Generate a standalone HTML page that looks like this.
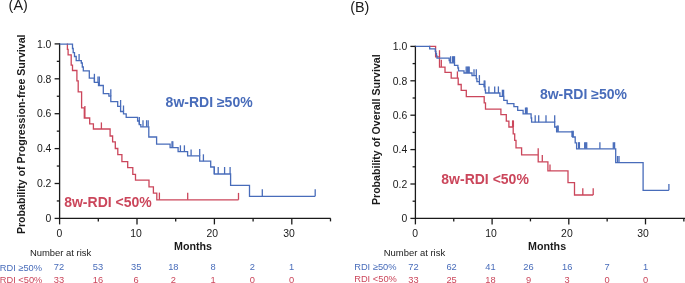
<!DOCTYPE html>
<html lang="en"><head><meta charset="utf-8"><title>Kaplan-Meier survival curves</title><style>html,body{margin:0;padding:0;background:#fff}body{width:685px;height:283px;overflow:hidden}</style></head><body><svg width="685" height="283" viewBox="0 0 685 283" style="display:block">
<rect width="685" height="283" fill="#fff"/>
<g font-family="'Liberation Sans',Arial,sans-serif" fill="#1a1a1a">
<text x="8.6" y="10.2" font-size="14.4">(A)</text>
<text x="350.2" y="11.5" font-size="14.4">(B)</text>
<g stroke="#1a1a1a" stroke-width="1.3" fill="none"><path d="M59.6,43.300000000000004V218.4H330.7" /><path d="M54.6,218.40H59.6"/><path d="M56.800000000000004,200.95H59.6"/><path d="M54.6,183.50H59.6"/><path d="M56.800000000000004,166.05H59.6"/><path d="M54.6,148.60H59.6"/><path d="M56.800000000000004,131.15H59.6"/><path d="M54.6,113.70H59.6"/><path d="M56.800000000000004,96.25H59.6"/><path d="M54.6,78.80H59.6"/><path d="M56.800000000000004,61.35H59.6"/><path d="M54.6,43.90H59.6"/><path d="M59.60,218.4V224.4"/><path d="M98.30,218.4V221.4"/><path d="M137.00,218.4V224.4"/><path d="M175.70,218.4V221.4"/><path d="M214.40,218.4V224.4"/><path d="M253.10,218.4V221.4"/><path d="M291.80,218.4V224.4"/><path d="M330.50,218.4V221.4"/></g>
<g stroke="#1a1a1a" stroke-width="1.3" fill="none"><path d="M415.4,45.800000000000004V218.4H685" /><path d="M410.4,218.40H415.4"/><path d="M412.59999999999997,201.20H415.4"/><path d="M410.4,184.00H415.4"/><path d="M412.59999999999997,166.80H415.4"/><path d="M410.4,149.60H415.4"/><path d="M412.59999999999997,132.40H415.4"/><path d="M410.4,115.20H415.4"/><path d="M412.59999999999997,98.00H415.4"/><path d="M410.4,80.80H415.4"/><path d="M412.59999999999997,63.60H415.4"/><path d="M410.4,46.40H415.4"/><path d="M415.40,218.4V224.4"/><path d="M453.75,218.4V221.4"/><path d="M492.10,218.4V224.4"/><path d="M530.45,218.4V221.4"/><path d="M568.80,218.4V224.4"/><path d="M607.15,218.4V221.4"/><path d="M645.50,218.4V224.4"/><path d="M683.85,218.4V221.4"/></g>
<g font-size="10.4">
<text x="51.4" y="222.10" text-anchor="end">0</text><text x="51.4" y="187.20" text-anchor="end">0.2</text><text x="51.4" y="152.30" text-anchor="end">0.4</text><text x="51.4" y="117.40" text-anchor="end">0.6</text><text x="51.4" y="82.50" text-anchor="end">0.8</text><text x="51.4" y="47.60" text-anchor="end">1.0</text>
<text x="407.2" y="222.10" text-anchor="end">0</text><text x="407.2" y="187.70" text-anchor="end">0.2</text><text x="407.2" y="153.30" text-anchor="end">0.4</text><text x="407.2" y="118.90" text-anchor="end">0.6</text><text x="407.2" y="84.50" text-anchor="end">0.8</text><text x="407.2" y="50.10" text-anchor="end">1.0</text>
<text x="59.4" y="236.8" text-anchor="middle">0</text>
<text x="136" y="236.8" text-anchor="middle">10</text>
<text x="212.3" y="236.8" text-anchor="middle">20</text>
<text x="289" y="236.8" text-anchor="middle">30</text>
<text x="415.1" y="236.8" text-anchor="middle">0</text>
<text x="491" y="236.8" text-anchor="middle">10</text>
<text x="566.9" y="236.8" text-anchor="middle">20</text>
<text x="643.1" y="236.8" text-anchor="middle">30</text>
</g>
<g font-size="10.6" font-weight="bold">
<text x="193" y="249.7" text-anchor="middle" font-size="10.7">Months</text>
<text x="547.1" y="249.5" text-anchor="middle" font-size="10.7">Months</text>
<text transform="translate(24.5,134.3) rotate(-90)" text-anchor="middle">Probability of Progression-free Survival</text>
<text transform="translate(380,129.7) rotate(-90)" text-anchor="middle">Probability of Overall Survival</text>
</g>
<g font-size="9.3">
<text x="29.9" y="256.3" font-size="9.45">Number at risk</text>
<text x="383.8" y="256.4" font-size="9.45">Number at risk</text>
<g fill="#486cba">
<text x="-0.3" y="270.5">RDI ≥50%</text>
<text x="354.2" y="270.3">RDI ≥50%</text>
<text x="59" y="270.2" text-anchor="middle">72</text>
<text x="98" y="270.2" text-anchor="middle">53</text>
<text x="136.2" y="270.2" text-anchor="middle">35</text>
<text x="173.3" y="270.2" text-anchor="middle">18</text>
<text x="213" y="270.2" text-anchor="middle">8</text>
<text x="252.4" y="270.2" text-anchor="middle">2</text>
<text x="291.5" y="270.2" text-anchor="middle">1</text>
<text x="413.4" y="270.2" text-anchor="middle">72</text>
<text x="451.6" y="270.2" text-anchor="middle">62</text>
<text x="490.5" y="270.2" text-anchor="middle">41</text>
<text x="528.5" y="270.2" text-anchor="middle">26</text>
<text x="567.2" y="270.2" text-anchor="middle">16</text>
<text x="607.1" y="270.2" text-anchor="middle">7</text>
<text x="645.6" y="270.2" text-anchor="middle">1</text>
</g>
<g fill="#cb465b">
<text x="-0.3" y="282.6">RDI &lt;50%</text>
<text x="354.2" y="282.4">RDI &lt;50%</text>
<text x="59" y="282.6" text-anchor="middle">33</text>
<text x="98" y="282.6" text-anchor="middle">16</text>
<text x="136.2" y="282.6" text-anchor="middle">6</text>
<text x="173.3" y="282.6" text-anchor="middle">2</text>
<text x="213" y="282.6" text-anchor="middle">1</text>
<text x="252.4" y="282.6" text-anchor="middle">0</text>
<text x="291.5" y="282.6" text-anchor="middle">0</text>
<text x="413.4" y="282.6" text-anchor="middle">33</text>
<text x="451.6" y="282.6" text-anchor="middle">25</text>
<text x="490.5" y="282.6" text-anchor="middle">18</text>
<text x="528.5" y="282.6" text-anchor="middle">9</text>
<text x="567.2" y="282.6" text-anchor="middle">3</text>
<text x="607.1" y="282.6" text-anchor="middle">0</text>
<text x="645.6" y="282.6" text-anchor="middle">0</text>
</g>
</g>
<g font-size="14" font-weight="bold">
<text x="165.6" y="106.5" fill="#486cba">8w-RDI ≥50%</text>
<text x="64.2" y="206.8" fill="#cb465b">8w-RDI &lt;50%</text>
<text x="539.9" y="99.1" fill="#486cba">8w-RDI ≥50%</text>
<text x="441.3" y="184.2" fill="#cb465b">8w-RDI &lt;50%</text>
</g>
</g>
<g stroke="#cb465b" stroke-width="1.3" fill="none" stroke-linejoin="miter"><path d="M66.8,44.1H67.4V49.4H68.1V54.8H71.2V65.2H72.5V70.5H76.9V80.9H78.2V91.8H81.6V107.8H84.3V118H89.7V123.9H93.4V129H110.1V136H112.6V141.8H115.3V148.5H117.8V154.6H121.9V161.6H127.7V167.7H132.8V174.3H135.5V180.2H149V186.8H153.4V193.1H156.8V199.8H238.5"/><path d="M84.9,106V118"/><path d="M101.4,122.4V129"/><path d="M159.4,192.6V199.8"/><path d="M187.7,192.8V199.8"/><path d="M238.5,192.9V199.8"/></g>
<g stroke="#486cba" stroke-width="1.3" fill="none" stroke-linejoin="miter"><path d="M59.6,44.1H72.5V48.5H73.2V52.6H74.5V56.5H76.2V60.6H81.3V63H82.3V67H83.3V70.8H89.3V78.1H94.4V82.3H98.5V85.5H103.3V93.7H108.9V96.2H110.8V101.6H117.7V106.4H120.6V111.5H123.5V113.8H126.2V117.3H137.6V121H139.3V124.6H140.8V126.8H148.8V137H156.6V144.2H170.1V147.6H178.1V151.6H187.6V155.8H199.7V161.2H210.7V167H214.3V174H230.6V185.3H249.5V196.3H315.2"/><path d="M79.1,54V60.6"/><path d="M94.4,73.8V82.3"/><path d="M98,76.5V82.3"/><path d="M99.3,76.5V85.5"/><path d="M110.8,89.3V96.2"/><path d="M120.6,100V106.4"/><path d="M123.5,105.5V111.5"/><path d="M139.3,117V124.6"/><path d="M143,120.2V126.8"/><path d="M146.6,120.2V126.8"/><path d="M148.2,120.2V126.8"/><path d="M172,141.2V147.6"/><path d="M172.8,141.2V147.6"/><path d="M180.4,145.3V151.6"/><path d="M184.4,145.3V151.6"/><path d="M191.1,149.4V155.8"/><path d="M199.7,149V155.8"/><path d="M203.4,154.3V161.2"/><path d="M214.3,167V174"/><path d="M218.2,167V174"/><path d="M224.6,167V174"/><path d="M230.1,167V174"/><path d="M262.3,189.3V196.3"/><path d="M315.2,189.3V196.3"/></g>
<g stroke="#cb465b" stroke-width="1.3" fill="none" stroke-linejoin="miter"><path d="M429.2,46.4H435.6V56.8H439.5V67.1H445V72.3H451.2V78.1H458.2V84.5H461.2V90.4H466.3V96.6H484.2V102.8H485.5V109.1H500.9V114.6H506.3V121.2H508.9V127H513.2V133.8H514.7V140.4H516V147.8H521.6V154.8H538.2V161.8H547.9V170.9H568V182.6H574.5V195H593.2"/><path d="M439.5,50.2V57"/><path d="M441.3,59.8V67.1"/><path d="M457.4,71.4V78.1"/><path d="M512.6,120.4V127"/><path d="M513.4,120.4V127"/><path d="M538.2,148.2V154.8"/><path d="M542.3,155.1V161.8"/><path d="M550,164.4V170.9"/><path d="M582.8,188.2V195"/><path d="M593.2,188.2V195"/></g>
<g stroke="#486cba" stroke-width="1.3" fill="none" stroke-linejoin="miter"><path d="M415.5,46.4H429.7V48.9H435.3V51.3H435.9V53.7H436.5V56H437V58.2H449.2V60.5H450V62.8H454.5V65.3H457.9V68H458.5V70.8H464V73H472V75.7H476.3V78.7H476.9V81.7H479.4V84.3H484.2V86.8H485V90H485.5V93H499.9V96.3H503.8V100.4H507.2V103.6H513.9V106.6H517.7V110.3H523.1V113.9H531.1V118H531.6V122.2H554.7V127H556.6V131.8H572.6V137H575.2V142.8H576.6V148.8H615.7V162.6H643.1V190.3H668.9"/><path d="M450.6,56.2V62.8"/><path d="M452.6,56.2V62.8"/><path d="M453.6,56.2V62.8"/><path d="M454.5,56.2V62.8"/><path d="M466.2,66.5V73"/><path d="M467.3,66.5V73"/><path d="M468.3,66.5V73"/><path d="M469.2,66.5V73"/><path d="M474,69.3V75.7"/><path d="M476.3,69.3V75.7"/><path d="M479.4,75.1V81.7"/><path d="M484.2,80.4V86.8"/><path d="M484.9,80.4V86.8"/><path d="M488.9,86.4V93"/><path d="M494.7,86.4V93"/><path d="M498.4,86.4V93"/><path d="M502.4,89.7V96.3"/><path d="M503.6,89.7V96.3"/><path d="M525.5,107.6V113.9"/><path d="M526.3,107.6V113.9"/><path d="M527.1,107.6V113.9"/><path d="M535.2,115.3V122.2"/><path d="M538.7,115.3V122.2"/><path d="M546,115.3V122.2"/><path d="M554.7,115.3V122.2"/><path d="M557.2,125.5V131.8"/><path d="M558.2,125.5V131.8"/><path d="M572,130.7V137"/><path d="M573.2,130.7V137"/><path d="M578.6,142.2V148.8"/><path d="M579.4,142.2V148.8"/><path d="M584.7,142.2V148.8"/><path d="M585.7,142.2V148.8"/><path d="M586.7,142.2V148.8"/><path d="M599.9,142.2V148.8"/><path d="M613.3,142.2V148.8"/><path d="M614.6,142.2V148.8"/><path d="M617.5,156V162.6"/><path d="M619,156V162.6"/><path d="M668.9,183.9V190.3"/></g>
</svg></body></html>
